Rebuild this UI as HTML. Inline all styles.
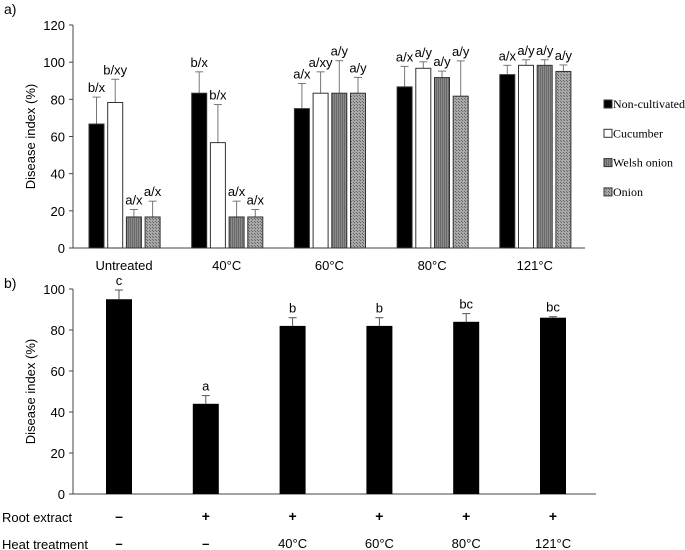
<!DOCTYPE html>
<html><head><meta charset="utf-8">
<style>
body{margin:0;background:#fff;}
svg{display:block;font-family:"Liberation Sans",sans-serif;}
</style></head>
<body>
<svg id="chart" width="685" height="550" xmlns="http://www.w3.org/2000/svg">
<defs>
<pattern id="stripes" width="2" height="4" patternUnits="userSpaceOnUse"><rect width="2" height="4" fill="#8a8a8a"/><rect width="1" height="4" fill="#6a6a6a"/></pattern>
<pattern id="hatch" width="3" height="3" patternUnits="userSpaceOnUse"><rect width="3" height="3" fill="#a8a8a8"/><rect width="1" height="1" fill="#666"/><rect x="2" y="2" width="1" height="1" fill="#666"/></pattern>
</defs>
<g id="top"></g>
<g id="bot"></g>
</svg>
<script>
const groupsA=["Untreated","40°C","60°C","80°C","121°C"];
const seriesA=["Non-cultivated","Cucumber","Welsh onion","Onion"];
const nonCult=[66.7,83.3,75,86.7,93.3];
const cucumber=[78.3,56.7,83.3,96.7,98.3];
const welsh=[16.7,16.7,83.3,91.7,98.3];
const onion=[16.7,16.7,83.3,81.7,95];
const nonCultErr=[14.5,11.5,13.5,11,5];
const cucumberErr=[12.5,20.5,11.5,3.5,3];
const welshErr=[4,8.5,17.5,3.5,3];
const onionErr=[8.5,4,8.5,19,3.5];
const nonCultLab=["b/x","b/x","a/x","a/x","a/x"];
const cucumberLab=["b/xy","b/x","a/xy","a/y","a/y"];
const welshLab=["a/x","a/x","a/y","a/y","a/y"];
const onionLab=["a/x","a/x","a/y","a/y","a/y"];
const ticksA=[0,20,40,60,80,100,120];

const catsB=["1","2","3","4","5","6"];
const valsB=[95,44,82,82,84,86];
const errB=[4.5,4,4,4,4,0.5];
const labB=["c","a","b","b","bc","bc"];
const rootB=["–","+","+","+","+","+"];
const heatB=["–","–","40°C","60°C","80°C","121°C"];
const ticksB=[0,20,40,60,80,100];

const NS="http://www.w3.org/2000/svg";
function mk(parent,tag,attrs,text){const e=document.createElementNS(NS,tag);for(const k in attrs)e.setAttribute(k,attrs[k]);if(text!==undefined)e.textContent=text;parent.appendChild(e);return e;}

// Panel A
const A=document.getElementById('top');
const ax0=73, ay0=248, ay1=25, ax1=585;
const yA=v=>ay0-(v/120)*(ay0-ay1);
const xA=(g,s)=>89+g*102.7+s*18.7;
let t=mk(A,'text',{x:4,y:14,'font-size':14},'a)');

let l=mk(A,'line',{x1:ax0,y1:ay1,x2:ax0,y2:ay0,stroke:'#444'});

l=mk(A,'line',{x1:ax0,y1:ay0,x2:ax1,y2:ay0,stroke:'#444'});

ticksA.forEach(v=>{
  mk(A,'line',{x1:ax0-4,y1:yA(v),x2:ax0,y2:yA(v),stroke:'#444'});
  t=mk(A,'text',{x:ax0-8,y:yA(v)+5,'font-size':13,'text-anchor':'end'},v);
  
});
t=mk(A,'text',{x:0,y:0,'font-size':13,'text-anchor':'middle',transform:`translate(35,${(ay0+ay1)/2}) rotate(-90)`},'Disease index (%)');

const fills=['#000','#fff','url(#stripes)','url(#hatch)'];
const vals=[nonCult,cucumber,welsh,onion],errs=[nonCultErr,cucumberErr,welshErr,onionErr],labs=[nonCultLab,cucumberLab,welshLab,onionLab];
groupsA.forEach((g,gi)=>{
  t=mk(A,'text',{x:xA(gi,0)+35,y:270,'font-size':13,'text-anchor':'middle'},g);
  
  for(let s=0;s<4;s++){
    const v=vals[s][gi],e=errs[s][gi],x=xA(gi,s),cx=x+7.5;
    mk(A,'line',{x1:cx,y1:yA(v),x2:cx,y2:yA(v+e),stroke:'#777'});
    mk(A,'line',{x1:cx-4,y1:yA(v+e),x2:cx+4,y2:yA(v+e),stroke:'#777'});
    const r=mk(A,'rect',{x:x,y:yA(v),width:15,height:ay0-yA(v),fill:fills[s],stroke:'#333','stroke-width':1});
    
    
    t=mk(A,'text',{x:cx,y:yA(v+e)-5,'font-size':13,'text-anchor':'middle'},labs[s][gi]);
    
  }
});
seriesA.forEach((s,i)=>{
  const y=108+i*29.3;
  const r=mk(A,'rect',{x:604,y:y-8,width:8,height:8,fill:fills[i],stroke:'#333'});
  
  t=mk(A,'text',{x:613,y:y,'font-size':12,'font-family':'Liberation Serif, serif'},s);
  
});

// Panel B
const B=document.getElementById('bot');
const bx0=73, by0=494, by1=289, bx1=596;
const yB=v=>by0-(v/100)*(by0-by1);
const xB=i=>119+i*86.8;
t=mk(B,'text',{x:4,y:288,'font-size':14},'b)');

l=mk(B,'line',{x1:bx0,y1:by1,x2:bx0,y2:by0,stroke:'#444'});

l=mk(B,'line',{x1:bx0,y1:by0,x2:bx1,y2:by0,stroke:'#444'});

ticksB.forEach(v=>{
  mk(B,'line',{x1:bx0-4,y1:yB(v),x2:bx0,y2:yB(v),stroke:'#444'});
  t=mk(B,'text',{x:bx0-8,y:yB(v)+5,'font-size':13,'text-anchor':'end'},v);
  
});
t=mk(B,'text',{x:0,y:0,'font-size':13,'text-anchor':'middle',transform:`translate(35,${(by0+by1)/2}) rotate(-90)`},'Disease index (%)');

t=mk(B,'text',{x:2,y:522,'font-size':13},'Root extract');

t=mk(B,'text',{x:2,y:549,'font-size':13},'Heat treatment');

catsB.forEach((c,i)=>{
  const v=valsB[i],e=errB[i],cx=xB(i);
  mk(B,'line',{x1:cx,y1:yB(v),x2:cx,y2:yB(v+e),stroke:'#555'});
  mk(B,'line',{x1:cx-4,y1:yB(v+e),x2:cx+4,y2:yB(v+e),stroke:'#555'});
  const r=mk(B,'rect',{x:cx-13,y:yB(v),width:26,height:by0-yB(v),fill:'#000'});
  
  t=mk(B,'text',{x:cx,y:yB(v+e)-5,'font-size':13,'text-anchor':'middle'},labB[i]);
  
  t=mk(B,'text',{x:cx,y:521,'font-size':14,'font-weight':'bold','text-anchor':'middle'},rootB[i]);
  
  t=mk(B,'text',{x:cx,y:548,'font-size':13,'text-anchor':'middle','font-weight':heatB[i]==='–'?'bold':'normal'},heatB[i]);
  
});
</script>
</body></html>
